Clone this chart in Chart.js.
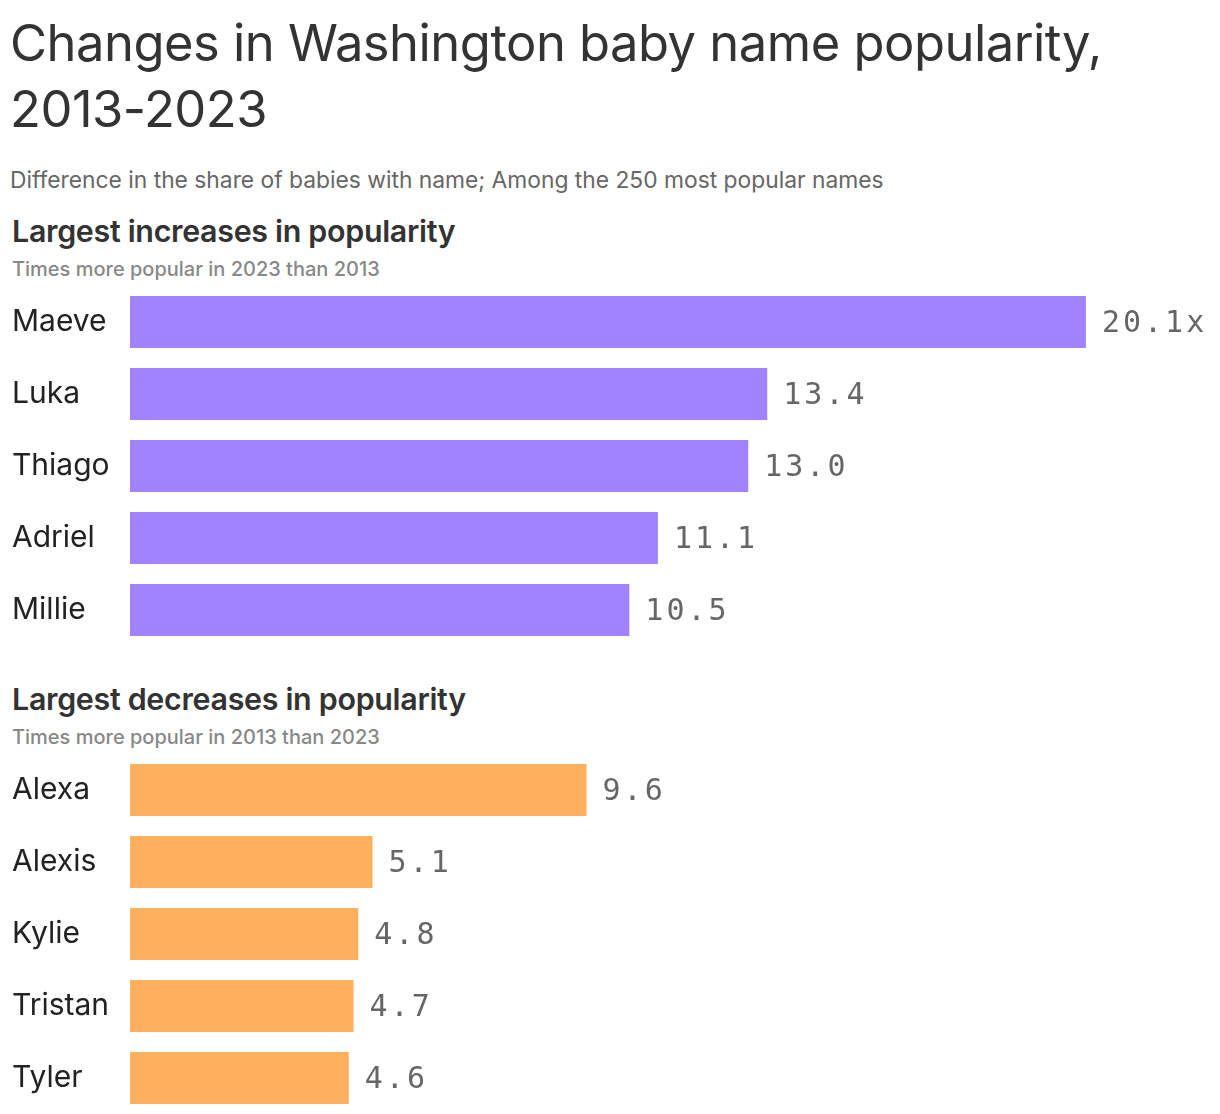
<!DOCTYPE html>
<html>
<head>
<meta charset="utf-8">
<script src="https://cdn.jsdelivr.net/npm/chart.js@4"></script>
<style>
    body { margin: 0; background: #fff; font-family: Inter, "Noto Sans", sans-serif; }
    .page { position: relative; width: 1220px; height: 1114px; overflow: hidden; }
    .title { position: absolute; left: 10px; top: 10px; font-size: 50.7px; line-height: 66px; color: #333; letter-spacing: -0.5px; }
    .sub { position: absolute; left: 10px; top: 166px; font-size: 22.8px; color: #666; }
    .head { position: absolute; left: 12px; font-size: 30.4px; font-weight: 600; color: #333; letter-spacing: -0.3px; }
    .note { position: absolute; left: 12px; font-size: 20px; font-weight: 500; color: #888; }
    .box { position: absolute; left: 0; width: 1220px; height: 360px; }
</style>
</head>
<body>
<div class="page">
    <div class="title">Changes in Washington baby name popularity,<br>2013-2023</div>
    <div class="sub">Difference in the share of babies with name; Among the 250 most popular names</div>

    <div class="head" style="top: 213px;">Largest increases in popularity</div>
    <div class="note" style="top: 257px;">Times more popular in 2023 than 2013</div>
    <div class="box" style="top: 286px;"><canvas id="upChart"></canvas></div>

    <div class="head" style="top: 681px;">Largest decreases in popularity</div>
    <div class="note" style="top: 725px;">Times more popular in 2013 than 2023</div>
    <div class="box" style="top: 754px;"><canvas id="downChart"></canvas></div>
</div>

<script>
const upNames = ['Maeve', 'Luka', 'Thiago', 'Adriel', 'Millie'];
const upValues = [20.1, 13.4, 13.0, 11.1, 10.5];

const downNames = ['Alexa', 'Alexis', 'Kylie', 'Tristan', 'Tyler'];
const downValues = [9.6, 5.1, 4.8, 4.7, 4.6];

// both panels share one x scale so bars are comparable
const xMax = 22.92;

// value labels at the end of each bar
const valueLabels = {
    id: 'valueLabels',
    afterDatasetsDraw(chart, args, opts) {
        const ctx = chart.ctx;
        const meta = chart.getDatasetMeta(0);
        ctx.save();
        ctx.font = '30px "DejaVu Sans Mono", "Liberation Mono", monospace';
        ctx.letterSpacing = '3px';
        ctx.fillStyle = '#666';
        ctx.textBaseline = 'middle';
        meta.data.forEach((bar, i) => {
            let txt = chart.data.datasets[0].data[i].toFixed(1);
            if (opts.suffixFirst && i === 0) txt += 'x';
            ctx.fillText(txt, bar.x + 16, bar.y + 2);
        });
        ctx.restore();
    }
};

function makeChart(id, labels, values, color, suffixFirst) {
    const ctx = document.getElementById(id).getContext('2d');
    return new Chart(ctx, {
        type: 'bar',
        data: {
            labels: labels,
            datasets: [{
                data: values,
                backgroundColor: color,
                borderWidth: 0,
                barPercentage: 52 / 72,
                categoryPercentage: 1
            }]
        },
        options: {
            indexAxis: 'y',
            responsive: true,
            maintainAspectRatio: false,
            animation: false,
            layout: { padding: { left: 12, right: 0, top: 0, bottom: 0 } },
            plugins: {
                legend: { display: false },
                tooltip: { enabled: false },
                valueLabels: { suffixFirst: suffixFirst }
            },
            scales: {
                x: {
                    display: false,
                    min: 0,
                    max: xMax
                },
                y: {
                    grid: { display: false },
                    border: { display: false },
                    afterFit: scale => {
                        scale.width = 118;
                        scale.paddingTop = 0;
                        scale.paddingBottom = 0;
                    },
                    ticks: {
                        crossAlign: 'far',
                        color: '#222',
                        font: { family: 'Inter', size: 30 }
                    }
                }
            }
        },
        plugins: [valueLabels]
    });
}

makeChart('upChart', upNames, upValues, '#a183ff', true);
makeChart('downChart', downNames, downValues, '#ffb05c', false);
</script>
</body>
</html>
